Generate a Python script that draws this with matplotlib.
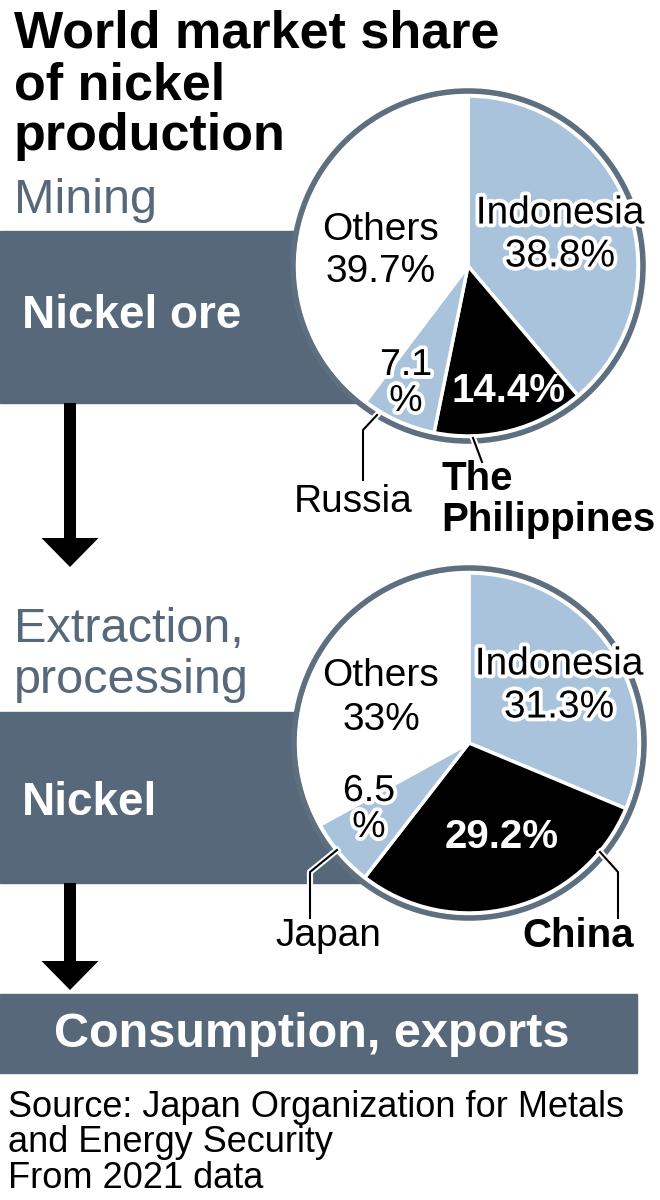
import numpy as np
import matplotlib.pyplot as plt
import matplotlib.patheffects as pe
from matplotlib.patches import Rectangle, Circle, FancyArrow

plt.rcParams['font.family'] = ['Liberation Sans', 'DejaVu Sans']

# Mining -> nickel ore, share of world production (%)
ore_countries = ['Indonesia', 'The Philippines', 'Russia', 'Others']
ore_share = [38.8, 14.4, 7.1, 39.7]

# Extraction, processing -> nickel, share of world production (%)
nickel_countries = ['Indonesia', 'China', 'Japan', 'Others']
nickel_share = [31.3, 29.2, 6.5, 33]

slice_colors = ['#a9c3dc', '#000000', '#a9c3dc', '#ffffff']
BAR = '#566879'
RING = '#5e6f80'
halo = [pe.withStroke(linewidth=5.5, foreground='white')]
line_halo = [pe.Stroke(linewidth=4.5, foreground='white'), pe.Normal()]


def pct(v):
    return f"{v:g}%"


fig = plt.figure(figsize=(6.6, 12), dpi=100)
ax = fig.add_axes([0, 0, 1, 1])


def draw_pie(center, shares):
    ax.add_patch(Circle(center, 175, facecolor='white', edgecolor=RING, lw=4, zorder=2))
    ax.pie(shares, colors=slice_colors, startangle=-90, counterclock=True,
           center=center, radius=170, frame=True,
           wedgeprops=dict(edgecolor='white', linewidth=2.5, zorder=3))


# title
ax.text(14, 47, 'World market share', fontsize=37.5, fontweight='bold', va='baseline')
ax.text(14, 99, 'of nickel', fontsize=37.5, fontweight='bold', va='baseline')
ax.text(14, 150, 'production', fontsize=37.5, fontweight='bold', va='baseline')

# --- stage 1: mining
ax.text(14, 213, 'Mining', fontsize=35, color=BAR, va='baseline')
ax.add_patch(Rectangle((0, 231), 468, 172, color=BAR, zorder=1))
ax.text(22, 328, 'Nickel ore', fontsize=33, fontweight='bold', color='white', va='baseline')
draw_pie((468, 266), ore_share)

ax.text(381, 251, ore_countries[3] + '\n' + pct(ore_share[3]), fontsize=28,
        ha='center', va='center', linespacing=1.25, zorder=6)
ax.text(560, 235, ore_countries[0] + '\n' + pct(ore_share[0]), fontsize=28,
        ha='center', va='center', linespacing=1.25, path_effects=halo, zorder=6)
ax.text(406, 383, f"{ore_share[2]:g}\n%", fontsize=27, ha='center', va='center',
        linespacing=1.0, path_effects=halo, zorder=6)
ax.text(509, 391, pct(ore_share[1]), fontsize=29, fontweight='bold', color='white',
        ha='center', va='center', zorder=6)

ax.plot([377, 363, 363], [415, 430, 480], color='black', lw=1.5,
        path_effects=line_halo, zorder=5)
ax.plot([473, 482], [438, 462], color='black', lw=1.5, path_effects=line_halo, zorder=5)
ax.text(353, 502, ore_countries[2], fontsize=28, ha='center', va='center')
ax.text(441, 479, 'The', fontsize=29, fontweight='bold', ha='left', va='center')
ax.text(441, 520, 'Philippines', fontsize=29, fontweight='bold', ha='left', va='center')

ax.add_patch(FancyArrow(70, 403, 0, 164, width=12, head_width=57, head_length=29,
                        length_includes_head=True, color='black', lw=0))

# --- stage 2: extraction, processing
ax.text(14, 642, 'Extraction,', fontsize=35, color=BAR, va='baseline')
ax.text(14, 693, 'processing', fontsize=35, color=BAR, va='baseline')
ax.add_patch(Rectangle((0, 712), 468, 171, color=BAR, zorder=1))
ax.text(22, 815, 'Nickel', fontsize=33, fontweight='bold', color='white', va='baseline')
draw_pie((469, 743), nickel_share)

ax.text(381, 698, nickel_countries[3] + '\n' + pct(nickel_share[3]), fontsize=28,
        ha='center', va='center', linespacing=1.25, zorder=6)
ax.text(559, 686, nickel_countries[0] + '\n' + pct(nickel_share[0]), fontsize=28,
        ha='center', va='center', linespacing=1.25, path_effects=halo, zorder=6)
ax.text(369, 809, f"{nickel_share[2]:g}\n%", fontsize=27, ha='center', va='center',
        linespacing=1.0, path_effects=halo, zorder=6)
ax.text(502, 837, pct(nickel_share[1]), fontsize=29, fontweight='bold', color='white',
        ha='center', va='center', zorder=6)

ax.plot([337, 310, 310], [850, 872, 918], color='black', lw=1.5,
        path_effects=line_halo, zorder=5)
ax.plot([600, 618, 618], [852, 872, 918], color='black', lw=1.5,
        path_effects=line_halo, zorder=5)
ax.text(328, 936, nickel_countries[2], fontsize=28, ha='center', va='center')
ax.text(578, 936, nickel_countries[1], fontsize=29, fontweight='bold', ha='center', va='center')

ax.add_patch(FancyArrow(70, 883, 0, 107, width=12, head_width=57, head_length=29,
                        length_includes_head=True, color='black', lw=0))

# --- stage 3
ax.add_patch(Rectangle((0, 994), 637, 79, color=BAR, zorder=1))
ax.text(312, 1047, 'Consumption, exports', fontsize=35, fontweight='bold',
        color='white', ha='center', va='baseline')

ax.text(8, 1117, 'Source: Japan Organization for Metals', fontsize=26, va='baseline')
ax.text(8, 1152, 'and Energy Security', fontsize=26, va='baseline')
ax.text(8, 1188, 'From 2021 data', fontsize=26, va='baseline')

ax.set_xlim(0, 660)
ax.set_ylim(1200, 0)
ax.set_aspect('auto')
ax.axis('off')

fig.savefig('out.png', dpi=100)
